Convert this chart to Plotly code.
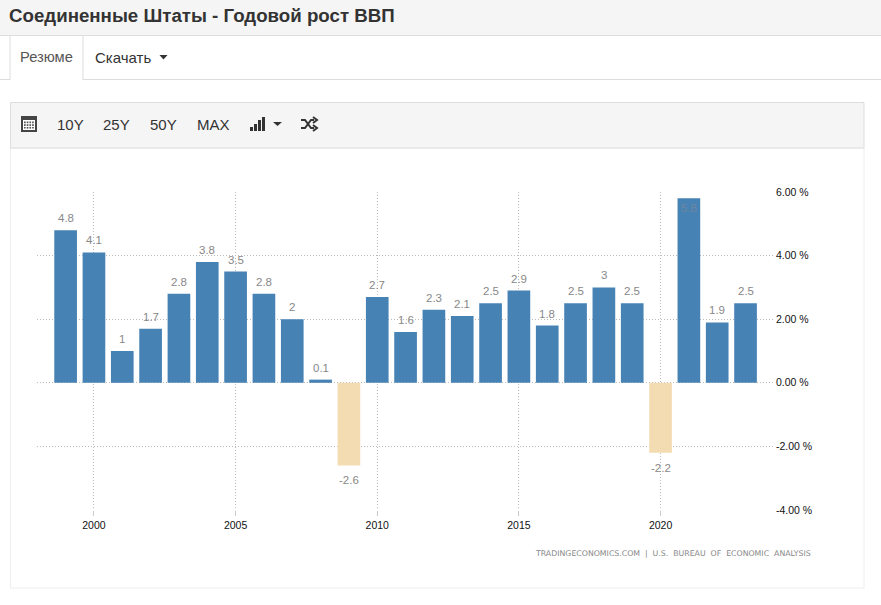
import plotly.graph_objects as go

W, H = 881, 605

# data
years = list(range(1999, 2024))
growth = [4.8, 4.1, 1, 1.7, 2.8, 3.8, 3.5, 2.8, 2, 0.1, -2.6, 2.7, 1.6, 2.3, 2.1,
          2.5, 2.9, 1.8, 2.5, 3, 2.5, -2.2, 5.8, 1.9, 2.5]
x_ticks = [2000, 2005, 2010, 2015, 2020]
y_ticks = [-4, -2, 0, 2, 4, 6]
y_labels = ["-4.00 %", "-2.00 %", "0.00 %", "2.00 %", "4.00 %", "6.00 %"]
toolbar_items = ["10Y", "25Y", "50Y", "MAX"]


# page pixels to paper coordinates
def px(x):
    return x / W


def py(y):
    return 1 - y / H


def rect(x0, y0, x1, y1, fill=None, line=None):
    return dict(type="rect", xref="paper", yref="paper", layer="below",
                x0=px(x0), x1=px(x1), y0=py(y0), y1=py(y1),
                fillcolor=fill or "rgba(0,0,0,0)",
                line=dict(color=line or "rgba(0,0,0,0)", width=1 if line else 0))


def hline(x0, x1, y, color="#dddddd"):
    return dict(type="line", xref="paper", yref="paper", layer="below",
                x0=px(x0), x1=px(x1), y0=py(y), y1=py(y), line=dict(color=color, width=1))


def vline(x, y0, y1, color="#dddddd"):
    return dict(type="line", xref="paper", yref="paper", layer="below",
                x0=px(x), x1=px(x), y0=py(y0), y1=py(y1), line=dict(color=color, width=1))


def label(x, y, text, size, color="#333333", family="Liberation Sans", anchor="left"):
    return dict(x=px(x), y=py(y), xref="paper", yref="paper", text=text, showarrow=False,
                xanchor=anchor, yanchor="middle", font=dict(size=size, color=color, family=family))


def caret(x0, x1, y0, y1, color="#333333"):
    path = f"M {px(x0)} {py(y0)} L {px(x1)} {py(y0)} L {px((x0 + x1) / 2)} {py(y1)} Z"
    return dict(type="path", xref="paper", yref="paper", path=path, fillcolor=color,
                line=dict(width=0))


fig = go.Figure()

fig.add_trace(go.Bar(
    x=years,
    y=growth,
    width=0.8,
    marker=dict(color=["#4682b4" if v >= 0 else "#f3dcb2" for v in growth], line=dict(width=0)),
    showlegend=False,
))

# page furniture around the chart
shapes = [
    rect(0, 0, W, 35, fill="#f5f5f5"),
    hline(0, W, 35.5),
    hline(0, 10, 79.5),
    hline(83, W, 79.5),
    vline(10, 36, 80),
    vline(83, 36, 80),
    rect(10.5, 148, 864, 588, line="#eeeeee"),
    rect(10.5, 102.5, 864, 148, fill="#f5f5f5", line="#dddddd"),
    # calendar icon
    rect(21, 116, 37, 132, fill="#444444"),
    rect(23, 120, 35, 130, fill="#ffffff"),
    caret(159.5, 167.5, 55, 59.5),
    caret(273, 282, 122, 126),
]
for row in range(3):
    for col in range(4):
        shapes.append(rect(24 + col * 2.7, 121.5 + row * 2.7, 25.7 + col * 2.7, 123.2 + row * 2.7,
                           fill="#555555"))
# bar chart icon
for i, top in enumerate([127, 124, 120, 117]):
    shapes.append(rect(250 + i * 4, top, 253 + i * 4, 131, fill="#333333"))
# shuffle icon
shuffle = (f"M {px(301)} {py(120)} L {px(305)} {py(120)} L {px(311)} {py(128)} L {px(314)} {py(128)} "
           f"M {px(301)} {py(128)} L {px(305)} {py(128)} L {px(311)} {py(120)} L {px(314)} {py(120)} "
           f"M {px(313)} {py(117)} L {px(317)} {py(120)} L {px(313)} {py(123)} "
           f"M {px(313)} {py(125)} L {px(317)} {py(128)} L {px(313)} {py(131)}")
shapes.append(dict(type="path", xref="paper", yref="paper", path=shuffle,
                   line=dict(color="#333333", width=2)))

annotations = [
    label(7, 15, "<b>Соединенные Штаты - Годовой рост ВВП</b>", 18.7),
    label(18, 57, "Резюме", 14.7, color="#555555"),
    label(93, 57, "Скачать", 15),
    label(813, 553.5, "TRADINGECONOMICS.COM  |  U.S.  BUREAU  OF  ECONOMIC  ANALYSIS", 7.8,
          color="#888888", family="DejaVu Sans", anchor="right"),
]
for item, x in zip(toolbar_items, [55, 101, 148, 195]):
    annotations.append(label(x, 124, item, 15))

# value labels sit above the bars, below the negative ones, inside the clipped top one
for year, value in zip(years, growth):
    shift = 12 if value >= 0 else -15
    color = "#888888"
    if value > 5:
        shift = -10
        color = "#6f86a0"
    annotations.append(dict(x=year, y=value, xref="x", yref="y", text=str(value), showarrow=False,
                            yshift=shift, font=dict(size=11.5, color=color, family="Liberation Sans")))

fig.update_layout(
    width=W,
    height=H,
    autosize=False,
    margin=dict(l=0, r=0, t=0, b=0, autoexpand=False),
    paper_bgcolor="white",
    plot_bgcolor="white",
    shapes=shapes,
    annotations=annotations,
    xaxis=dict(
        domain=[px(37), px(775)],
        range=[1997.99, 2024.04],
        tickmode="array",
        tickvals=x_ticks,
        ticks="outside",
        ticklen=5,
        tickcolor="#cccccc",
        showgrid=True,
        gridcolor="#bbbbbb",
        griddash="1px,2px",
        gridwidth=1,
        zeroline=False,
        showline=False,
        tickfont=dict(size=10.5, color="#111111", family="Liberation Sans"),
    ),
    yaxis=dict(
        domain=[py(510), py(192)],
        range=[-4, 6],
        side="right",
        tickmode="array",
        tickvals=y_ticks,
        ticktext=y_labels,
        showgrid=True,
        gridcolor="#bbbbbb",
        griddash="1px,2px",
        gridwidth=1,
        zeroline=False,
        showline=False,
        tickfont=dict(size=10.5, color="#111111", family="Liberation Sans"),
    ),
)

fig.write_html("out.html", config=dict(displayModeBar=False),
               post_script="document.body.style.margin='0';")
